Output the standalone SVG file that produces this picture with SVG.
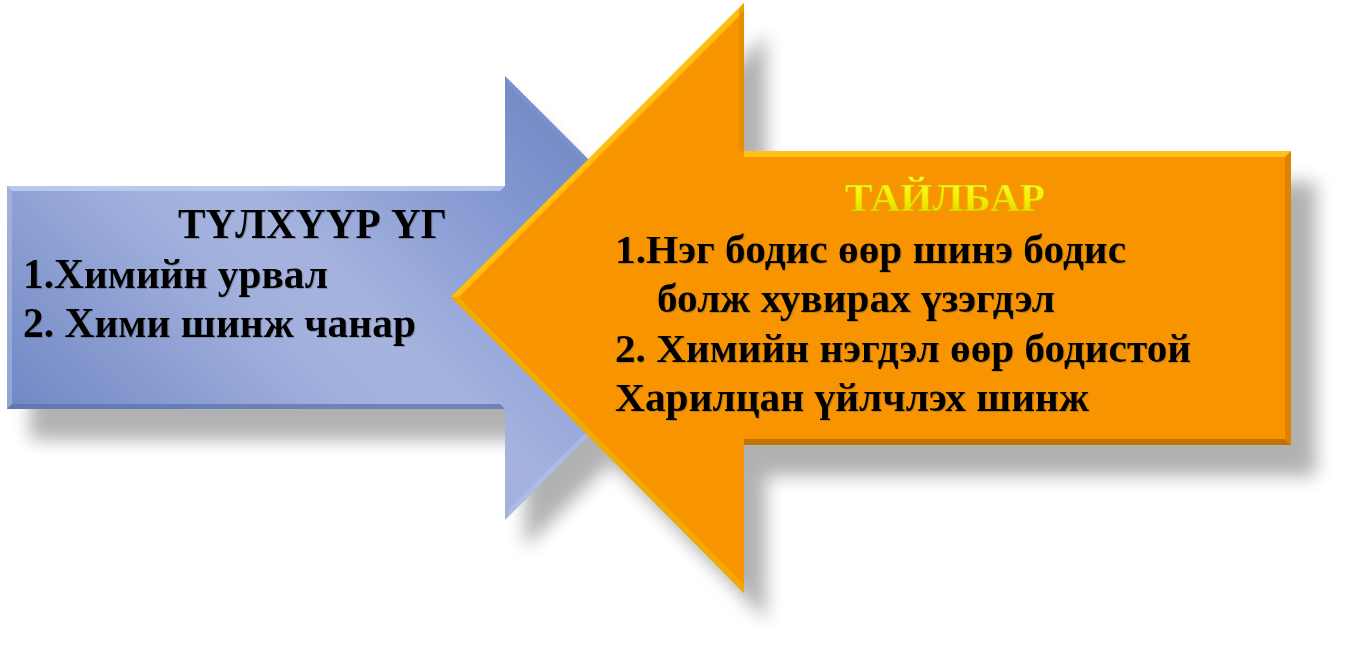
<svg xmlns="http://www.w3.org/2000/svg" width="1352" height="653" viewBox="0 0 1352 653">
<style>
.t{font-family:"Liberation Serif","Times New Roman",serif;font-weight:bold;fill:#000}
.title{font-family:"Liberation Serif","Times New Roman",serif;font-weight:bold}
</style>
<defs>
<filter id="shadow" x="-10%" y="-10%" width="130%" height="140%">
<feGaussianBlur stdDeviation="9"/>
</filter>
<filter id="tshadow" x="-5%" y="-20%" width="110%" height="150%">
<feOffset in="SourceAlpha" dx="1" dy="1" result="o"/>
<feFlood flood-color="#404040" flood-opacity="0.3"/>
<feComposite in2="o" operator="in" result="s"/>
<feMerge><feMergeNode in="s"/><feMergeNode in="SourceGraphic"/></feMerge>
</filter>
<linearGradient id="blueG" gradientUnits="userSpaceOnUse" x1="580" y1="60" x2="120" y2="520">
<stop offset="0" stop-color="#6a82c0"/>
<stop offset="0.3" stop-color="#8a9ed4"/>
<stop offset="0.5" stop-color="#a5b3de"/>
<stop offset="0.62" stop-color="#a2b0dd"/>
<stop offset="1" stop-color="#7088c4"/>
</linearGradient>
<linearGradient id="yelG" x1="0" y1="0" x2="0" y2="1">
<stop offset="0" stop-color="#ffff30"/>
<stop offset="0.6" stop-color="#f2ec00"/>
<stop offset="1" stop-color="#dcc800"/>
</linearGradient>
</defs>

<g id="shadows" fill="#000" opacity="0.3" filter="url(#shadow)">
<polygon points="30,218 525,218 525,110 745,330 525,548 525,440 30,440"/>
<polygon points="476,325 766,35 766,182 1316,182 1316,476 766,476 766,620"/>
</g>

<g id="node-keywords">
<polygon points="7,186 505,186 505,76 727,298 505,520 505,409 7,409" fill="url(#blueG)"/>
<polygon points="7,186 505,186 500,191 12,191" fill="#c3cff0" opacity="0.8"/>
<polygon points="7,186 12,191 12,404 7,409" fill="#b4c2ea" opacity="0.5"/>
<polygon points="7,409 505,409 500,404 12,404" fill="#5a70aa" opacity="0.7"/>
<polygon points="505,76 727,298 720,298 510,88" fill="#7f95cc" opacity="0.6"/>
<polygon points="505,520 727,298 720,298 510,508" fill="#b6c3ea" opacity="0.6"/>
<g filter="url(#tshadow)">
<text class="t" x="178" y="238" font-size="42" textLength="269" lengthAdjust="spacingAndGlyphs">ТҮЛХҮҮР ҮГ</text>
<text class="t" x="23" y="288" font-size="42" textLength="305" lengthAdjust="spacingAndGlyphs">1.Химийн урвал</text>
<text class="t" x="23" y="337" font-size="42" textLength="393" lengthAdjust="spacingAndGlyphs">2. Хими шинж чанар</text>
</g>
</g>

<g id="node-explanation">
<polygon points="451,297 744,3 744,151 1291,151 1291,445 744,445 744,593" fill="#f79400"/>
<polygon points="744,151 1291,151 1286,157 744,157" fill="#ffc21c"/>
<polygon points="1291,151 1291,445 1285,439 1285,157" fill="#dc8400"/>
<polygon points="744,445 1291,445 1285,439 744,439" fill="#c27400"/>
<polygon points="451,297 744,3 744,11 459,297" fill="#ffbf10"/>
<polygon points="451,297 744,593 744,585 459,297" fill="#f0aa00"/>
<polygon points="744,3 744,151 739,151 739,10" fill="#e08800" opacity="0.6"/>
<text class="title" x="845" y="211" font-size="41" fill="url(#yelG)" stroke="#d0b400" stroke-width="0.5" textLength="200" lengthAdjust="spacingAndGlyphs">ТАЙЛБАР</text>
<g filter="url(#tshadow)">
<text class="t" x="615" y="263" font-size="40" textLength="511" lengthAdjust="spacingAndGlyphs">1.Нэг бодис өөр шинэ бодис</text>
<text class="t" x="657" y="312" font-size="40" textLength="398" lengthAdjust="spacingAndGlyphs">болж хувирах үзэгдэл</text>
<text class="t" x="615" y="362" font-size="40" textLength="576" lengthAdjust="spacingAndGlyphs">2. Химийн нэгдэл өөр бодистой</text>
<text class="t" x="615" y="411" font-size="40" textLength="474" lengthAdjust="spacingAndGlyphs">Харилцан үйлчлэх шинж</text>
</g>
</g>

<g id="connectors"></g>
</svg>
